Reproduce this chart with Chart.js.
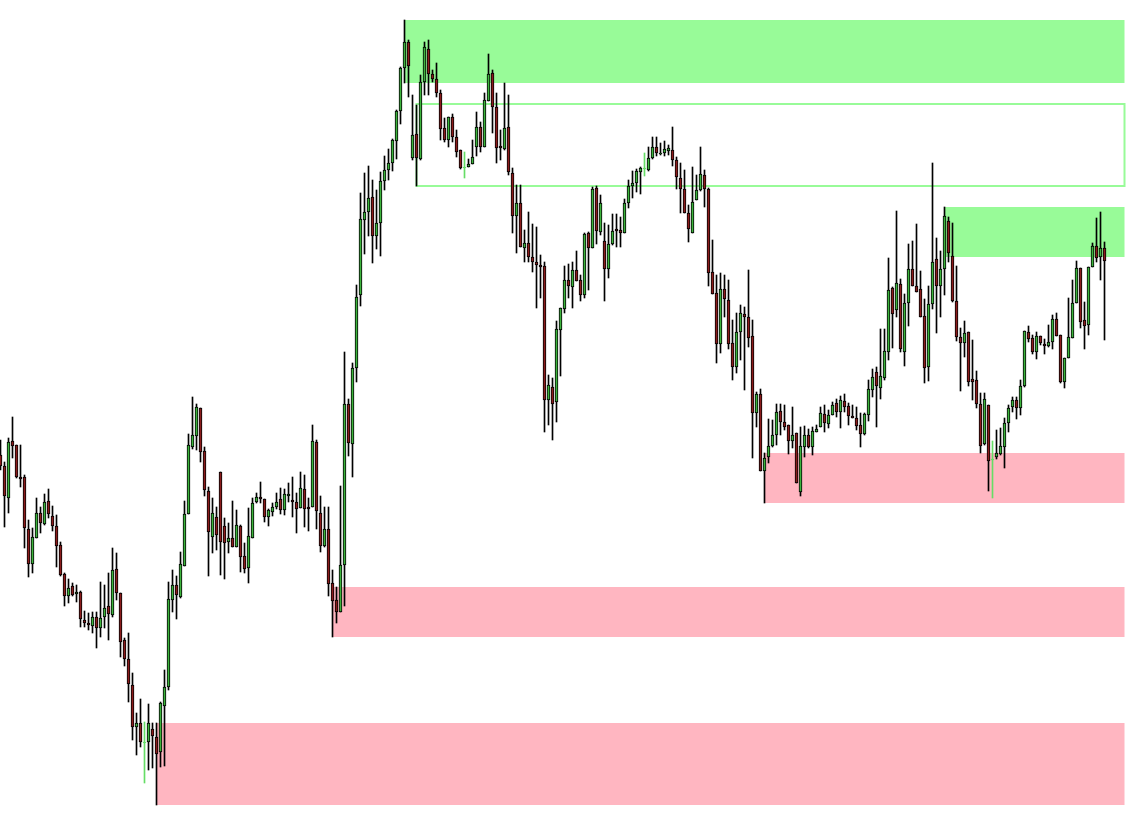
<!DOCTYPE html>
<html>
<head>
<meta charset="utf-8">
<script src="https://cdn.jsdelivr.net/npm/chart.js@4"></script>
<style>
    html, body { margin: 0; padding: 0; background: #fff; }
    #wrap { width: 1145px; height: 819px; }
</style>
</head>
<body>
<div id="wrap"><canvas id="chart" width="1145" height="819"></canvas></div>
<script>
const opens = [
    545, 534, 502, 559, 555, 523, 523, 471, 436, 462,
    487, 476, 499, 484, 474, 455, 426, 404, 414, 406,
    408, 380, 377, 374, 383, 372, 383, 394, 385, 431,
    407, 360, 341, 315, 273, 277, 257, 258, 271, 263,
    248, 294, 313, 400, 415, 403, 434, 486, 553, 564,
    592, 549, 509, 463, 483, 528, 474, 458, 462, 453,
    474, 444, 432, 462, 498, 503, 501, 483, 488, 493,
    501, 490, 504, 500, 498, 492, 511, 493, 493, 558,
    487, 454, 471, 417, 400, 388, 435, 596, 556, 632,
    705, 780, 788, 803, 764, 777, 819, 830, 837, 859,
    889, 932, 958, 842, 866, 841, 918, 951, 926, 921,
    907, 872, 860, 883, 863, 850, 832, 833, 836, 853,
    873, 853, 899, 927, 893, 854, 851, 873, 827, 784,
    797, 752, 757, 743, 738, 735, 734, 600, 613, 598,
    670, 691, 720, 713, 730, 720, 705, 767, 752, 812,
    768, 759, 731, 756, 771, 770, 767, 797, 814, 817,
    828, 831, 830, 842, 853, 846, 847, 849, 850, 840,
    822, 811, 787, 767, 800, 810, 825, 811, 728, 707,
    656, 711, 700, 657, 633, 668, 686, 683, 664, 587,
    606, 529, 543, 554, 565, 589, 578, 575, 559, 567,
    508, 553, 565, 553, 568, 573, 586, 576, 585, 597,
    588, 599, 594, 584, 582, 575, 566, 585, 610, 628,
    612, 622, 648, 712, 690, 716, 648, 697, 731, 714,
    711, 684, 633, 696, 741, 714, 731, 779, 744, 699,
    663, 657, 668, 621, 620, 596, 556, 595, 540, 543,
    546, 553, 577, 593, 600, 592, 614, 668, 662, 648,
    664, 656, 654, 658, 681, 665, 618, 642, 662, 697,
    732, 680, 675, 733, 754, 743, 752
]
const highs = [
    560, 538, 562, 583, 555, 555, 525, 480, 472, 502,
    493, 506, 511, 494, 485, 458, 427, 421, 417, 415,
    409, 389, 387, 388, 388, 418, 415, 427, 452, 447,
    407, 362, 367, 327, 287, 301, 278, 296, 277, 277,
    298, 330, 418, 430, 424, 448, 499, 566, 603, 596,
    592, 553, 513, 502, 493, 528, 482, 477, 499, 490,
    475, 457, 492, 502, 507, 518, 501, 491, 497, 507,
    512, 511, 517, 523, 507, 528, 525, 502, 575, 560,
    504, 493, 493, 430, 413, 514, 648, 601, 637, 715,
    807, 827, 834, 820, 810, 828, 844, 851, 861, 890,
    933, 980, 960, 905, 895, 925, 958, 960, 930, 937,
    910, 882, 883, 886, 870, 850, 848, 841, 860, 888,
    878, 907, 946, 930, 907, 870, 917, 905, 832, 815,
    815, 770, 788, 776, 773, 745, 738, 625, 622, 679,
    692, 734, 736, 738, 749, 725, 767, 768, 813, 814,
    805, 777, 775, 786, 786, 783, 801, 820, 829, 831,
    833, 847, 853, 863, 863, 857, 859, 855, 873, 843,
    837, 830, 795, 833, 825, 853, 830, 812, 760, 725,
    727, 725, 720, 680, 687, 695, 693, 730, 680, 608,
    611, 547, 581, 580, 596, 596, 595, 575, 593, 567,
    573, 574, 571, 573, 575, 593, 595, 590, 598, 601,
    604, 606, 597, 595, 593, 587, 587, 620, 631, 633,
    671, 671, 742, 713, 789, 721, 706, 756, 759, 776,
    729, 701, 714, 837, 762, 749, 793, 783, 777, 734,
    672, 679, 668, 660, 629, 607, 607, 595, 559, 570,
    572, 582, 595, 603, 603, 620, 669, 674, 665, 668,
    664, 661, 675, 685, 687, 665, 642, 702, 720, 739,
    732, 698, 733, 757, 782, 788, 758
]
const lows = [
    530, 473, 487, 542, 522, 513, 452, 423, 427, 462,
    467, 475, 482, 469, 433, 424, 394, 397, 404, 398,
    373, 373, 370, 367, 352, 363, 372, 360, 383, 400,
    343, 334, 298, 260, 245, 253, 217, 230, 232, 195,
    233, 234, 310, 388, 381, 402, 434, 486, 551, 550,
    538, 504, 424, 447, 450, 425, 421, 447, 453, 453,
    428, 427, 417, 462, 497, 497, 478, 474, 484, 491,
    486, 485, 498, 483, 467, 492, 473, 469, 493, 471,
    448, 453, 404, 363, 377, 388, 394, 544, 523, 618,
    694, 746, 764, 737, 751, 744, 810, 820, 829, 841,
    876, 917, 903, 840, 814, 840, 905, 905, 918, 903,
    860, 858, 853, 858, 843, 831, 822, 833, 836, 844,
    848, 853, 899, 867, 837, 840, 850, 825, 767, 747,
    753, 738, 738, 728, 692, 702, 568, 575, 560, 578,
    624, 687, 702, 692, 719, 699, 702, 710, 752, 756,
    765, 699, 722, 755, 753, 753, 767, 792, 802, 808,
    806, 824, 829, 841, 844, 845, 844, 845, 834, 811,
    787, 787, 758, 767, 800, 809, 793, 714, 706, 637,
    647, 683, 651, 620, 627, 640, 610, 653, 542, 573,
    529, 497, 537, 553, 555, 565, 570, 546, 552, 517,
    504, 543, 552, 545, 568, 573, 568, 572, 585, 583,
    572, 588, 575, 582, 570, 553, 565, 579, 603, 573,
    601, 620, 640, 652, 683, 648, 634, 674, 714, 708,
    683, 617, 619, 691, 667, 683, 705, 738, 698, 659,
    609, 643, 614, 600, 592, 547, 555, 509, 502, 541,
    545, 532, 568, 588, 581, 585, 613, 658, 646, 641,
    655, 646, 653, 651, 664, 617, 612, 642, 662, 697,
    672, 651, 665, 733, 738, 720, 660
]
const closes = [
    534, 504, 558, 554, 523, 521, 472, 436, 463, 487,
    477, 498, 486, 474, 454, 425, 404, 412, 405, 408,
    381, 377, 375, 383, 372, 382, 392, 386, 430, 407,
    358, 341, 316, 273, 277, 258, 257, 277, 264, 246,
    297, 313, 401, 415, 405, 436, 486, 555, 565, 593,
    548, 510, 468, 487, 465, 458, 457, 462, 453, 475,
    443, 431, 464, 497, 503, 501, 483, 490, 493, 498,
    490, 506, 506, 498, 491, 512, 491, 491, 559, 489,
    454, 471, 416, 399, 388, 435, 596, 557, 632, 703,
    781, 788, 802, 764, 777, 819, 830, 837, 860, 889,
    932, 958, 934, 865, 842, 918, 953, 926, 921, 907,
    871, 860, 883, 863, 848, 832, 832, 836, 843, 873,
    853, 900, 926, 893, 852, 852, 872, 828, 784, 797,
    753, 757, 743, 738, 735, 733, 600, 615, 596, 671,
    692, 720, 714, 730, 719, 705, 766, 752, 811, 769,
    797, 731, 756, 769, 769, 767, 797, 814, 817, 829,
    832, 831, 842, 853, 847, 847, 851, 852, 840, 823,
    811, 787, 771, 798, 810, 826, 811, 727, 706, 656,
    711, 701, 656, 633, 668, 687, 683, 662, 587, 606,
    529, 542, 554, 565, 588, 578, 573, 559, 565, 517,
    554, 565, 553, 569, 571, 587, 577, 585, 595, 588,
    600, 593, 584, 582, 574, 566, 586, 611, 623, 614,
    624, 649, 710, 686, 717, 651, 697, 731, 714, 708,
    683, 632, 696, 738, 714, 731, 784, 747, 699, 663,
    657, 667, 618, 618, 596, 554, 601, 539, 540, 547,
    554, 577, 592, 600, 592, 614, 669, 661, 648, 664,
    657, 654, 658, 681, 664, 618, 642, 663, 697, 732,
    678, 674, 733, 754, 742, 752, 739
]

// zones: first bar, price top / bottom, kind
const zoneStart = [101, 104, 236, 191, 83, 39]
const zoneTop = [980, 896, 793, 547, 413, 277]
const zoneBottom = [917, 814, 743, 497, 363, 195]
const zoneKind = ['supply', 'outline', 'supply', 'demand', 'demand', 'demand']
const zoneEnd = 281

const bull = '#3cb43c'
const bear = '#8b1c1c'
const dojiColor = '#66dd66'
const supplyColor = '#98fb98'
const demandColor = '#ffb6c1'

const isDoji = i => opens[i] === closes[i]

const zonesPlugin = {
    id: 'zones',
    beforeDatasetsDraw: chart => {
        const { ctx, scales: { x, y } } = chart
        ctx.save()
        zoneStart.forEach((s, k) => {
            const left = x.getPixelForValue(s)
            const right = x.getPixelForValue(zoneEnd)
            const top = y.getPixelForValue(zoneTop[k])
            const bottom = y.getPixelForValue(zoneBottom[k])
            if (zoneKind[k] === 'outline') {
                ctx.strokeStyle = supplyColor
                ctx.lineWidth = 2
                ctx.strokeRect(left, top, right - left, bottom - top)
            } else {
                ctx.fillStyle = zoneKind[k] === 'supply' ? supplyColor : demandColor
                ctx.fillRect(left, top, right - left, bottom - top)
            }
        })
        ctx.restore()
    }
}

const idx = opens.map((_, i) => i)

new Chart(document.getElementById('chart'), {
    type: 'bar',
    data: {
        datasets: [{
            label: 'body',
            data: idx.map(i => ({ x: i, y: [opens[i], closes[i]] })),
            grouped: false,
            barThickness: 3,
            minBarLength: 1,
            borderWidth: 1,
            borderSkipped: false,
            backgroundColor: c => isDoji(c.dataIndex) ? dojiColor : (closes[c.dataIndex] > opens[c.dataIndex] ? bull : bear),
            borderColor: c => isDoji(c.dataIndex) ? dojiColor : '#000'
        }, {
            label: 'wick',
            data: idx.map(i => ({ x: i, y: [lows[i], highs[i]] })),
            grouped: false,
            barThickness: 1,
            borderWidth: 0,
            backgroundColor: c => isDoji(c.dataIndex) ? dojiColor : '#000'
        }]
    },
    options: {
        responsive: false,
        animation: false,
        layout: { padding: 0 },
        plugins: { legend: { display: false }, tooltip: { enabled: false } },
        scales: {
            x: { type: 'linear', display: false, offset: false, min: -0.125, max: 286.125 },
            y: { display: false, min: 181, max: 1000 }
        }
    },
    plugins: [zonesPlugin]
})
</script>
</body>
</html>
